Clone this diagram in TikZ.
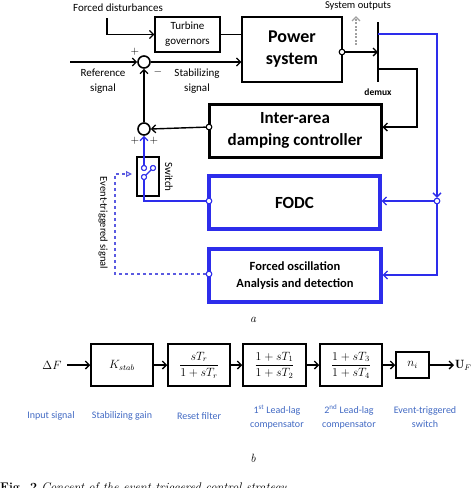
\RequirePackage{fix-cm}
\documentclass[tikz,border=0pt]{standalone}
\usepackage{fontspec}
\usepackage{amsmath}
\newfontfamily\cb{Carlito}
\usetikzlibrary{arrows.meta}
\definecolor{myblue}{RGB}{45,45,235}
\definecolor{dblue}{RGB}{90,90,225}
\definecolor{lblue}{RGB}{65,105,195}
\definecolor{sogray}{RGB}{160,160,160}
\begin{document}
\begin{tikzpicture}[x=1pt,y=-1pt,
 arr/.style={-{Straight Barb[length=4pt,width=8pt,line width=1.3pt]}},
 conn/.style={line width=1.4pt},
 bconn/.style={line width=1.4pt,draw=myblue},
 thinbox/.style={draw,line width=1.2pt,inner sep=0pt,align=center},
 bigbox/.style={draw,line width=3pt,inner sep=0pt,align=center},
 bluebox/.style={draw=myblue,line width=3.2pt,inner sep=0pt,align=center},
 sumj/.style={circle,draw,line width=1.6pt,minimum size=12pt,inner sep=0pt},
 port/.style={circle,draw,fill=white,line width=1pt,minimum size=5.5pt,inner sep=0pt},
 bport/.style={port,draw=myblue},
 lbl/.style={font=\cb\fontsize{11}{15}\selectfont,align=center,inner sep=0pt},
 blbl/.style={font=\cb\fontsize{10}{14}\selectfont,align=center,inner sep=0pt,text=lblue},
 tfbox/.style={draw,line width=1.5pt,inner sep=0pt,minimum height=42pt,font=\fontsize{12}{14}\selectfont},
]
\useasboundingbox (0,0) rectangle (474,488);
\clip (0,0) rectangle (474,488);

% ---------- part a ----------
\node[lbl] (fd) at (118,8) {Forced disturbances};
\node[thinbox,minimum width=65pt,minimum height=35pt,font=\cb\fontsize{11}{15}\selectfont] (tg) at (187.5,34.5) {Turbine\\governors};
\node[thinbox,minimum width=100pt,minimum height=65pt,font=\cb\bfseries\fontsize{18}{22}\selectfont] (ps) at (292,49.5) {Power\\system};
\node[bigbox,minimum width=172pt,minimum height=53pt,font=\cb\bfseries\fontsize{17}{22}\selectfont] (ia) at (295,130.5) {Inter-area\\damping controller};
\node[bluebox,minimum width=171pt,minimum height=53pt,font=\cb\bfseries\fontsize{17}{20}\selectfont] (fo) at (294.5,202.5) {FODC};
\node[bluebox,minimum width=172pt,minimum height=53pt,font=\cb\bfseries\fontsize{12.5}{17}\selectfont] (fa) at (295,275.5) {Forced oscillation\\Analysis and detection};

\node[sumj] (s1) at (144,62) {};
\node[sumj] (s2) at (144,129) {};
\node[font=\fontsize{11}{12}\selectfont,inner sep=0pt] (p1) at (135,52) {$+$};
\node[font=\fontsize{11}{12}\selectfont,inner sep=0pt] (m1) at (158,72) {$-$};
\node[font=\fontsize{11}{12}\selectfont,inner sep=0pt] (p2) at (135,141) {$+$};
\node[font=\fontsize{11}{12}\selectfont,inner sep=0pt] (p3) at (154,141) {$+$};

\node[lbl] (ref) at (103,81) {Reference\\signal};
\node[lbl] (stab) at (197,81) {Stabilizing\\signal};
\node[lbl,font=\cb\fontsize{10.5}{12}\selectfont] (so) at (358,6) {System outputs};
\node[lbl,font=\cb\bfseries\fontsize{9.5}{11}\selectfont] (dm) at (378,92) {demux};

% ports
\node[port] (po) at (342,52) {};
\node[port] (ic) at (209,127) {};
\node[bport] (fc) at (209,201) {};
\node[bport] (oc) at (209,274) {};
\node[bport] (bj) at (437,201) {};

% switch
\node[draw,line width=1.1pt,minimum width=22pt,minimum height=39pt,inner sep=0pt] (sw) at (148,176.5) {};
\node[bport,minimum size=5pt] (c1) at (144,168) {};
\node[bport,minimum size=5pt] (c2) at (153,168) {};
\node[bport,minimum size=5pt] (c3) at (144,177) {};
\node[lbl,rotate=-90] (swl) at (169,177) {Switch};
\node[lbl,rotate=-90,font=\cb\fontsize{10.5}{12}\selectfont] (etl) at (103,223) {Event-triggered signal};
\node[font=\itshape\fontsize{12}{14}\selectfont,inner sep=0pt] (la) at (253,320) {a};

% coordinates
\coordinate (fd0) at (107,18);
\coordinate (refin) at (70,62);
\coordinate (dx1) at (378,22);
\coordinate (dx2) at (378,82);
\coordinate (so1) at (356,45);
\coordinate (so2) at (356,16);
\coordinate (d1) at (378,34);
\coordinate (d1r) at (437,34);
\coordinate (d2) at (378,69);
\coordinate (d2r) at (417,69);
\coordinate (d2b) at (417,127);
\coordinate (bjb) at (437,275);
\coordinate (e1) at (115,274);
\coordinate (e2) at (115,174);
\coordinate (e3) at (132,174);

% connectors
\draw[conn,arr] (fd0) |- (tg.west);
\draw[conn] (tg.east) -- (tg.east -| ps.west);
\draw[conn,arr] (refin) -- (s1.west);
\draw[conn,arr] (s1.east) -- (s1.east -| ps.west);
\draw[conn,arr] (s2.north) -- (s1.south);
\draw[line width=1.6pt] (dx1) -- (dx2);
\draw[conn,arr] (po) -- (po -| dx1);
\draw[line width=1.6pt,draw=sogray,dash pattern=on 2pt off 1.5pt,-{Straight Barb[length=4pt,width=8pt,line width=1.3pt]}] (so1) -- (so2);
\draw[bconn,arr] (d1) -- (d1r) -- (bj.north);
\draw[conn,arr] (d2) -- (d2r) -- (d2b) -- (d2b -| ia.east);
\draw[conn,arr] (ic) -- (s2.east);
\draw[bconn,arr] (c1) -- (s2.south);
\draw[bconn] (c3) -- (c2);
\draw[bconn] (c3) |- (fc);
\draw[bconn,arr] (bj) -- (bj -| fo.east);
\draw[bconn,arr] (bj) -- (bjb) -- (bjb -| fa.east);
\draw[line width=1.1pt,draw=dblue,dashed,-{Triangle[open,length=6pt,width=6pt,line width=1.1pt]}] (oc) -- (e1) -- (e2) -- (e3);
\node[port] at (209,127) {};
\node[bport] at (209,201) {};
\node[bport] at (209,274) {};
\node[bport] at (437,201) {};
\node[port] at (342,52) {};
\node[bport,minimum size=5pt] at (144,168) {};
\node[bport,minimum size=5pt] at (153,168) {};
\node[bport,minimum size=5pt] at (144,177) {};

% ---------- part b ----------
\node[font=\fontsize{12}{14}\selectfont,inner sep=3pt] (df) at (52,365) {$\Delta F$};
\node[tfbox,minimum width=62pt] (k) at (122,365) {$K_{stab}$};
\node[tfbox,minimum width=62pt] (rf) at (199,365) {$\dfrac{sT_r}{1+sT_r}$};
\node[tfbox,minimum width=63pt] (l1) at (274.5,365) {$\dfrac{1+sT_1}{1+sT_2}$};
\node[tfbox,minimum width=62pt] (l2) at (351,365) {$\dfrac{1+sT_3}{1+sT_4}$};
\node[tfbox,minimum width=33pt,minimum height=26pt] (ni) at (412.5,365) {$n_i$};
\node[font=\fontsize{12}{14}\selectfont,inner sep=1pt,anchor=west] (uf) at (454,365) {$\mathbf{U}_F$};
\coordinate (dfs) at (67,365);
\draw[conn,arr] (dfs) -- (k.west);
\draw[conn,arr] (k) -- (rf);
\draw[conn,arr] (rf) -- (l1);
\draw[conn,arr] (l1) -- (l2);
\draw[conn,arr] (l2) -- (ni);
\draw[conn,arr] (ni) -- (uf);

\node[blbl] (t1) at (51,416) {Input signal};
\node[blbl] (t2) at (122,416) {Stabilizing gain};
\node[blbl] (t3) at (199,416) {Reset filter};
\node[blbl] (t4) at (277,417) {1\textsuperscript{st} Lead-lag\\compensator};
\node[blbl] (t5) at (349,417) {2\textsuperscript{nd} Lead-lag\\compensator};
\node[blbl] (t6) at (425,417) {Event-triggered\\switch};
\node[font=\itshape\fontsize{12}{14}\selectfont,inner sep=0pt] (lb) at (253,458) {b};

\node[anchor=base west,inner sep=0pt,font=\fontsize{12.5}{14}\selectfont] (cap) at (0,491) {\textbf{Fig. 2} \textit{Concept of the event-triggered control strategy}};
\end{tikzpicture}
\end{document}
